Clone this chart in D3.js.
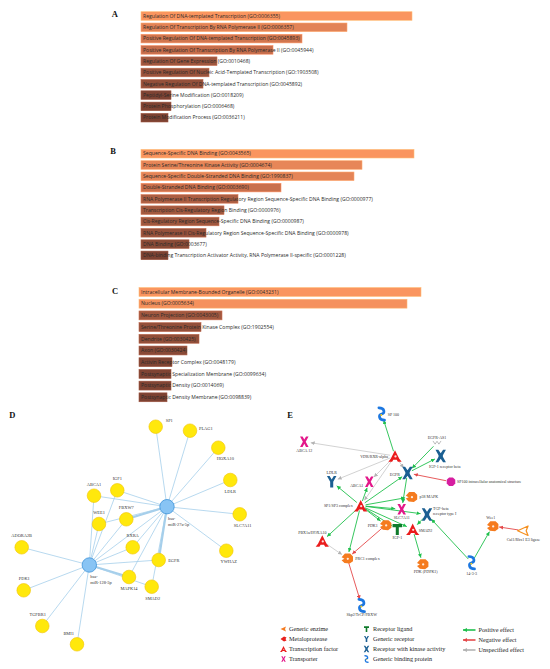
<!DOCTYPE html>
<html>
<head>
<meta charset="utf-8">
<script src="https://cdn.jsdelivr.net/npm/d3@7"></script>
<style>
  body { margin: 0; background: #fff; }
  svg { display: block; }
</style>
</head>
<body>
<div id="chart"></div>
<script>
// ---------- data: GO enrichment (bar length = enrichment score) ----------
const bpTerms = [
  "Regulation Of DNA-templated Transcription (GO:0006355)",
  "Regulation Of Transcription By RNA Polymerase II (GO:0006357)",
  "Positive Regulation Of DNA-templated Transcription (GO:0045893)",
  "Positive Regulation Of Transcription By RNA Polymerase II (GO:0045944)",
  "Regulation Of Gene Expression (GO:0010468)",
  "Positive Regulation Of Nucleic Acid-Templated Transcription (GO:1903508)",
  "Negative Regulation Of DNA-templated Transcription (GO:0045892)",
  "Peptidyl-Serine Modification (GO:0018209)",
  "Protein Phosphorylation (GO:0006468)",
  "Protein Modification Process (GO:0036211)"
];
const bpScores = [27.1, 20.6, 16.1, 13.2, 7.6, 6.8, 6.2, 3.0, 3.0, 2.7];

const mfTerms = [
  "Sequence-Specific DNA Binding (GO:0043565)",
  "Protein Serine/Threonine Kinase Activity (GO:0004674)",
  "Sequence-Specific Double-Stranded DNA Binding (GO:1990837)",
  "Double-Stranded DNA Binding (GO:0003690)",
  "RNA Polymerase II Transcription Regulatory Region Sequence-Specific DNA Binding (GO:0000977)",
  "Transcription Cis-Regulatory Region Binding (GO:0000976)",
  "Cis-Regulatory Region Sequence-Specific DNA Binding (GO:0000987)",
  "RNA Polymerase II Cis-Regulatory Region Sequence-Specific DNA Binding (GO:0000978)",
  "DNA Binding (GO:0003677)",
  "DNA-binding Transcription Activator Activity, RNA Polymerase II-specific (GO:0001228)"
];
const mfScores = [27.3, 22.1, 21.3, 14.0, 9.7, 8.3, 7.8, 6.5, 4.8, 2.7];

const ccTerms = [
  "Intracellular Membrane-Bounded Organelle (GO:0043231)",
  "Nucleus (GO:0005634)",
  "Neuron Projection (GO:0043005)",
  "Serine/Threonine Protein Kinase Complex (GO:1902554)",
  "Dendrite (GO:0030425)",
  "Axon (GO:0030424)",
  "Activin Receptor Complex (GO:0048179)",
  "Postsynaptic Specialization Membrane (GO:0099634)",
  "Postsynaptic Density (GO:0014069)",
  "Postsynaptic Density Membrane (GO:0098839)"
];
const ccScores = [28.2, 26.8, 8.3, 6.2, 6.0, 4.8, 3.3, 3.2, 3.2, 2.8];

// ---------- data: miRNA - target network (D) ----------
const dMirnas = ["hsa-miR-27a-5p", "hsa-miR-128-3p"];
const dGenes = ["SP1", "PLAG1", "HOXA10", "LDLR", "SLC7A11", "ABCA1", "IGF1", "WEE1", "FBXW7",
  "ADORA2B", "RXRA", "EGFR", "MAPK14", "SMAD2", "YWHAZ", "PDK1", "TGFBR1", "BMI1"];
// [miRNA, target, number of interactions]
const dLinks = [
  ["hsa-miR-27a-5p", "SP1", 1], ["hsa-miR-27a-5p", "PLAG1", 1], ["hsa-miR-27a-5p", "HOXA10", 1],
  ["hsa-miR-27a-5p", "LDLR", 1], ["hsa-miR-27a-5p", "SLC7A11", 1], ["hsa-miR-27a-5p", "YWHAZ", 1],
  ["hsa-miR-27a-5p", "EGFR", 2], ["hsa-miR-27a-5p", "SMAD2", 1], ["hsa-miR-27a-5p", "MAPK14", 1],
  ["hsa-miR-27a-5p", "RXRA", 1], ["hsa-miR-27a-5p", "FBXW7", 2], ["hsa-miR-27a-5p", "WEE1", 1],
  ["hsa-miR-27a-5p", "IGF1", 1], ["hsa-miR-27a-5p", "ABCA1", 1], ["hsa-miR-27a-5p", "hsa-miR-128-3p", 1],
  ["hsa-miR-128-3p", "ADORA2B", 1], ["hsa-miR-128-3p", "PDK1", 1], ["hsa-miR-128-3p", "TGFBR1", 1],
  ["hsa-miR-128-3p", "BMI1", 1], ["hsa-miR-128-3p", "ABCA1", 1], ["hsa-miR-128-3p", "IGF1", 1],
  ["hsa-miR-128-3p", "WEE1", 1], ["hsa-miR-128-3p", "FBXW7", 1], ["hsa-miR-128-3p", "RXRA", 1],
  ["hsa-miR-128-3p", "EGFR", 1], ["hsa-miR-128-3p", "MAPK14", 2], ["hsa-miR-128-3p", "SMAD2", 1]
];

// ---------- data: pathway network (E) ----------
const eNames = ["SP 100", "ABCA 12", "VDR/RXR-alpha", "EGFR-AS1", "IGF-1 receptor beta", "LDLR", "ABCA1",
  "EGFR", "SP100 intracellular anatomical structure", "p38 MAPK", "SP1/SP3 complex", "SLC7A11",
  "TGF-beta receptor type I", "PDK1", "IGF-1", "SMAD2", "PBX1a/HOXA10", "PRC1 complex",
  "PDK (PDPK1)", "14-3-3", "Wee1", "Cul1/Rbx1 E3 ligase", "Skp2/TrCP/FBXW"];
const eTypes = ["binding", "transporter", "tf", "rna", "rkinase", "receptor", "transporter",
  "rkinase", "structure", "enzyme", "tf", "transporter",
  "rkinase", "enzyme", "ligand", "tf", "tf", "enzyme",
  "enzyme", "binding", "enzyme", "ligase", "binding"];
const eLinks = [
  ["VDR/RXR-alpha", "SP 100", "positive"], ["VDR/RXR-alpha", "ABCA 12", "unspecified"],
  ["VDR/RXR-alpha", "LDLR", "unspecified"], ["VDR/RXR-alpha", "ABCA1", "unspecified"],
  ["VDR/RXR-alpha", "SP1/SP3 complex", "unspecified"], ["VDR/RXR-alpha", "EGFR", "unspecified"],
  ["EGFR-AS1", "EGFR", "positive"], ["EGFR", "IGF-1 receptor beta", "positive"],
  ["SP100 intracellular anatomical structure", "EGFR", "negative"],
  ["SP1/SP3 complex", "LDLR", "positive"], ["SP1/SP3 complex", "ABCA1", "positive"],
  ["SP1/SP3 complex", "EGFR", "positive"], ["SP1/SP3 complex", "p38 MAPK", "positive"],
  ["SP1/SP3 complex", "SLC7A11", "positive"], ["SP1/SP3 complex", "TGF-beta receptor type I", "positive"],
  ["SP1/SP3 complex", "SMAD2", "positive"], ["SP1/SP3 complex", "PDK1", "positive"],
  ["SP1/SP3 complex", "IGF-1", "positive"], ["SP1/SP3 complex", "PBX1a/HOXA10", "positive"],
  ["SP1/SP3 complex", "PRC1 complex", "positive"], ["EGFR", "SLC7A11", "positive"],
  ["TGF-beta receptor type I", "SMAD2", "positive"], ["SMAD2", "PDK (PDPK1)", "positive"],
  ["14-3-3", "TGF-beta receptor type I", "positive"], ["14-3-3", "Wee1", "positive"],
  ["Cul1/Rbx1 E3 ligase", "Wee1", "negative"], ["PDK1", "PRC1 complex", "negative"],
  ["PBX1a/HOXA10", "PRC1 complex", "unspecified"], ["PRC1 complex", "Skp2/TrCP/FBXW", "negative"]
];

const legendTypesA = [["enzymeKey", "Generic enzime"], ["metalo", "Metaloprotease"],
  ["tf", "Transcription factor"], ["transporter", "Transporter"]];
const legendTypesB = [["ligand", "Receptor ligand"], ["receptor", "Generic receptor"],
  ["rkinase", "Receptor with kinase activity"], ["binding", "Generic binding protein"]];
const legendEffects = [["positive", "Positive effect"], ["negative", "Negative effect"],
  ["unspecified", "Unspecified effect"]];

// ---------- layout ----------
const width = 550, height = 669;
const svg = d3.select("#chart").append("svg")
  .attr("width", width).attr("height", height)
  .attr("viewBox", `0 0 ${width} ${height}`);

const serif = "'Liberation Serif', 'DejaVu Serif', serif";
const sans = "'Open Sans', 'Liberation Sans', sans-serif";

function panelLetter(txt, x, y) {
  svg.append("text").attr("x", x).attr("y", y)
    .attr("text-anchor", "middle")
    .style("font-family", serif).style("font-weight", "bold").style("font-size", "8.5px")
    .attr("fill", "#111").text(txt);
}

// shared bar scale
const xBar = d3.scaleLinear().domain([0, 28.2]).range([0, 282]);
const barColor = d3.scaleLinear().domain([0, 0.45, 1]).range(["#7c4232", "#c86f4c", "#fa955f"]);

function drawGO(terms, scores, left, top, step) {
  const y = d3.scaleBand().domain(terms)
    .range([top, top + step * terms.length])
    .paddingInner(0.24).paddingOuter(0.12);
  const [lo, hi] = d3.extent(scores);
  const g = svg.append("g").attr("transform", `translate(${left},0)`);
  const rows = g.selectAll("g.row").data(terms.map((t, i) => ({ t, v: scores[i] })))
    .join("g").attr("class", "row");
  rows.append("rect")
    .attr("x", 0).attr("y", d => y(d.t))
    .attr("width", d => xBar(d.v)).attr("height", y.bandwidth())
    .attr("fill", d => barColor((d.v - lo) / (hi - lo)))
    .attr("stroke", d => d3.color(barColor((d.v - lo) / (hi - lo))).brighter(0.7))
    .attr("stroke-width", 0.6);
  rows.append("text")
    .attr("x", 2).attr("y", d => y(d.t) + y.bandwidth() / 2)
    .attr("dy", "0.35em")
    .style("font-family", sans).style("font-size", "5.1px")
    .attr("fill", "#2a2a2a").text(d => d.t);
}

panelLetter("A", 114.7, 17);
drawGO(bpTerms, bpScores, 141, 10.35, 11.3);
panelLetter("B", 113, 154);
drawGO(mfTerms, mfScores, 141, 148.05, 11.3);
panelLetter("C", 115, 294);
drawGO(ccTerms, ccScores, 139, 286.15, 11.7);

// ---------- D: miRNA network ----------
const dLayout = {
  "hsa-miR-27a-5p": [167, 106.7], "hsa-miR-128-3p": [89.3, 165],
  "SP1": [155.7, 26.7], "PLAG1": [190, 30.7], "HOXA10": [218.3, 47.7], "LDLR": [230.3, 80],
  "SLC7A11": [239.7, 114.3], "ABCA1": [94, 95.7], "IGF1": [117.3, 90.3], "WEE1": [99, 124],
  "FBXW7": [126.3, 119.3], "ADORA2B": [21.7, 147.3], "RXRA": [132.7, 147.3], "EGFR": [158.7, 160],
  "MAPK14": [129, 177], "SMAD2": [151.7, 186.7], "YWHAZ": [226.3, 150.7], "PDK1": [23.7, 190.3],
  "TGFBR1": [42.3, 226], "BMI1": [77, 244.3]
};
// label offset [dx, dy, anchor]
const dLabelPos = {
  "SP1": [10, -5, "start"], "PLAG1": [9, -1, "start"], "HOXA10": [7, 12, "middle"],
  "LDLR": [0, 12.5, "middle"], "SLC7A11": [3, 12.5, "middle"],
  "YWHAZ": [2.4, 12.5, "middle"], "EGFR": [9.5, 2, "start"], "MAPK14": [0, 13, "middle"],
  "SMAD2": [1, 13, "middle"], "PDK1": [0.6, -10, "middle"], "TGFBR1": [-4.6, -10, "middle"],
  "BMI1": [-8.3, -9.5, "middle"]
};
const xD = d3.scaleLinear().domain([0, 270]).range([0, 270]);
const yD = d3.scaleLinear().domain([0, 269]).range([400, 669]);
panelLetter("D", 12.3, 418);

const gD = svg.append("g");
gD.selectAll("line").data(dLinks).join("line")
  .attr("x1", d => xD(dLayout[d[0]][0])).attr("y1", d => yD(dLayout[d[0]][1]))
  .attr("x2", d => xD(dLayout[d[1]][0])).attr("y2", d => yD(dLayout[d[1]][1]))
  .attr("stroke", "#a6cfeb").attr("stroke-width", d => 0.8 + (d[2] - 1) * 1.4)
  .attr("stroke-linecap", "round");

gD.selectAll("circle.gene").data(dGenes).join("circle").attr("class", "gene")
  .attr("cx", d => xD(dLayout[d][0])).attr("cy", d => yD(dLayout[d][1]))
  .attr("r", 6.8).attr("fill", "#ffe80c").attr("stroke", "#f2c200").attr("stroke-width", 0.6);
gD.selectAll("circle.mir").data(dMirnas).join("circle").attr("class", "mir")
  .attr("cx", d => xD(dLayout[d][0])).attr("cy", d => yD(dLayout[d][1]))
  .attr("r", 7.2).attr("fill", "#88c4f4").attr("stroke", "#3f93d8").attr("stroke-width", 0.8);

gD.selectAll("text.gene").data(dGenes).join("text").attr("class", "gene")
  .attr("x", d => xD(dLayout[d][0]) + (dLabelPos[d] ? dLabelPos[d][0] : 0))
  .attr("y", d => yD(dLayout[d][1]) + (dLabelPos[d] ? dLabelPos[d][1] : -10))
  .attr("text-anchor", d => dLabelPos[d] ? dLabelPos[d][2] : "middle")
  .style("font-family", serif).style("font-size", "4.4px").attr("fill", "#333")
  .text(d => d);
gD.selectAll("text.mir").data(dMirnas).join("text").attr("class", "mir")
  .attr("x", d => xD(dLayout[d][0]) + 1)
  .attr("y", d => yD(dLayout[d][1]) + 13)
  .style("font-family", serif).style("font-size", "4.4px").attr("fill", "#333")
  .each(function (d) {
    const parts = d.split("-");
    d3.select(this).append("tspan").attr("x", xD(dLayout[d][0]) + 1).text(parts[0] + "-");
    d3.select(this).append("tspan").attr("x", xD(dLayout[d][0]) + 1).attr("dy", "1.35em")
      .text(parts.slice(1).join("-"));
  });

// ---------- E: pathway network ----------
const eLayout = {
  "SP 100": [111.7, 14], "ABCA 12": [34.3, 41.7], "VDR/RXR-alpha": [125, 56],
  "EGFR-AS1": [167, 42.7], "IGF-1 receptor beta": [170.7, 56], "LDLR": [61.7, 81.7],
  "ABCA1": [99.3, 81.7], "EGFR": [137.5, 73], "SP100 intracellular anatomical structure": [181, 81.7],
  "p38 MAPK": [141.5, 96.7], "SP1/SP3 complex": [90.7, 105.7], "SLC7A11": [131.7, 109.3],
  "TGF-beta receptor type I": [157, 114.5], "PDK1": [115.7, 125], "IGF-1": [127.3, 129.3],
  "SMAD2": [142.7, 129.3], "PBX1a/HOXA10": [52.3, 141], "PRC1 complex": [77.3, 158.3],
  "PDK (PDPK1)": [152.7, 164], "14-3-3": [201.7, 162.7], "Wee1": [222.7, 126],
  "Cul1/Rbx1 E3 ligase": [253.3, 130.7], "Skp2/TrCP/FBXW": [91.7, 205.5]
};
const eLabelPos = {
  "SP 100": [6, 1.5, "start"], "ABCA 12": [0, 10, "middle"], "VDR/RXR-alpha": [-7, 1.5, "end"],
  "EGFR-AS1": [0, -3.5, "middle"], "IGF-1 receptor beta": [4, 11.5, "middle"],
  "LDLR": [0, -8, "middle"], "ABCA1": [-6, 5, "end"], "EGFR": [-7.5, 3, "end"],
  "SP100 intracellular anatomical structure": [6, 1.5, "start"], "p38 MAPK": [8, 1.5, "start"],
  "SP1/SP3 complex": [-8, 1, "end"], "SLC7A11": [0, 9.5, "middle"],
  "TGF-beta receptor type I": [6, -5, "start"], "PDK1": [-8, 1.5, "end"], "IGF-1": [0, 10, "middle"],
  "SMAD2": [6, 2.5, "start"], "PBX1a/HOXA10": [-10, -7.5, "middle"], "PRC1 complex": [8, 1.5, "start"],
  "PDK (PDPK1)": [3, 9, "middle"], "14-3-3": [0, 12, "middle"], "Wee1": [-2, -7, "middle"],
  "Cul1/Rbx1 E3 ligase": [0, 10, "middle"], "Skp2/TrCP/FBXW": [0, 10, "middle"]
};
const xE = d3.scaleLinear().domain([0, 280]).range([270, 550]);
const yE = d3.scaleLinear().domain([0, 269]).range([400, 669]);
panelLetter("E", 290, 418);

const effectColor = { positive: "#1fbf4c", negative: "#e4484a", unspecified: "#b3b3b3" };
const defs = svg.append("defs");
Object.entries(effectColor).forEach(([k, c]) => {
  defs.append("marker").attr("id", "arr-" + k)
    .attr("viewBox", "0 -3 6 6").attr("refX", 6).attr("refY", 0)
    .attr("markerWidth", 4).attr("markerHeight", 4).attr("markerUnits", "userSpaceOnUse")
    .attr("orient", "auto")
    .append("path").attr("d", "M0,-3L6,0L0,3Z").attr("fill", c);
});

// icon glyphs, centred on 0,0
const icons = {
  enzyme: { d: "M-6,-1L-2.5,-5L3,-5L6,-2L6,3L2.5,5.5L-3,5L-6,2L-3,0.5Z", fill: "#f57b1f", dot: true },
  enzymeKey: { d: "M-6,0L5,-5L3,0L5,5Z", fill: "#f57b1f" },
  ligase: { d: "M-6,0L5,-5L3,0L5,5Z", fill: "#fff", stroke: "#f5901f", sw: 1.3 },
  metalo: { d: "M-6,0L1,-5L6,-3L4,0L6,3L1,5Z", fill: "#e8201c" },
  tf: { d: "M0,-6L4.5,3L7,6L3,6L1.8,4L-1.8,4L-3,6L-7,6L-4.5,3Z", fill: "#ea1c1c", dot: true },
  transporter: { d: "M-4.5,-5.5L-1.8,-5.5L0,-2.2L1.8,-5.5L4.5,-5.5L1.5,0L4.5,5.5L1.8,5.5L0,2.2L-1.8,5.5L-4.5,5.5L-1.5,0Z", fill: "#e3188a" },
  rkinase: { d: "M-5.5,-6.5L-2.5,-6.5L0,-3L2.5,-6.5L5.5,-6.5L2.3,-0.8L2.3,0.8L5.5,6.5L2.5,6.5L0,3L-2.5,6.5L-5.5,6.5L-2.3,0.8L-2.3,-0.8Z", fill: "#1b5f92" },
  receptor: { d: "M-5,-6L-2.2,-6L0,-2.2L2.2,-6L5,-6L1.6,0L1.6,6L-1.6,6L-1.6,0Z", fill: "#1b5f92" },
  ligand: { d: "M-5,-5.5L5,-5.5L5,-2.2L1.6,-2.2L1.6,6L-1.6,6L-1.6,-2.2L-5,-2.2Z", fill: "#0f7a2b" },
  binding: { d: "M-3,-6.5C3.5,-6.5,3.5,-1,0,0C-3.5,1,-3.5,6.5,3,6.5", stroke: "#1c77e0", sw: 2.8, fill: "none", ydot: true },
  structure: { d: "M-2,-4.5L2,-4.5L4.5,-2L4.5,2L2,4.5L-2,4.5L-4.5,2L-4.5,-2Z", fill: "#d61ea0" },
  rna: { d: "M-4,-1.5L-2,1.5L0,-1.5L2,1.5L4,-1.5", stroke: "#9a9a9a", sw: 0.7, fill: "none" }
};

function drawIcon(sel, type, k) {
  const ic = icons[type];
  sel.append("path").attr("d", ic.d)
    .attr("transform", `scale(${k})`)
    .attr("fill", ic.fill)
    .attr("stroke", ic.stroke || "none")
    .attr("stroke-width", ic.sw || (ic.stroke ? 1 : 0))
    .attr("stroke-linecap", "round").attr("stroke-linejoin", "round");
  if (ic.dot) sel.append("circle").attr("r", 1.2 * k).attr("cx", 0.5 * k).attr("cy", 0.5 * k).attr("fill", "#fff").attr("opacity", 0.85);
  if (ic.ydot) sel.append("circle").attr("r", 1 * k).attr("cx", -0.5 * k).attr("cy", 1 * k).attr("fill", "#ffd21a");
}

const gE = svg.append("g");
const ePos = n => [xE(eLayout[n][0]), yE(eLayout[n][1])];
gE.selectAll("line").data(eLinks).join("line")
  .each(function (d) {
    const [x1, y1] = ePos(d[0]), [x2, y2] = ePos(d[1]);
    const len = Math.hypot(x2 - x1, y2 - y1);
    const ux = (x2 - x1) / len, uy = (y2 - y1) / len;
    d3.select(this)
      .attr("x1", x1 + ux * 5).attr("y1", y1 + uy * 5)
      .attr("x2", x2 - ux * 6.5).attr("y2", y2 - uy * 6.5);
  })
  .attr("stroke", d => effectColor[d[2]])
  .attr("stroke-width", d => d[2] === "unspecified" ? 0.6 : 0.9)
  .attr("marker-end", d => `url(#arr-${d[2]})`);

const eNodeG = gE.selectAll("g.node").data(eNames).join("g").attr("class", "node")
  .attr("transform", d => `translate(${ePos(d)[0]},${ePos(d)[1]})`);
eNodeG.each(function (d, i) { drawIcon(d3.select(this), eTypes[i], 0.95); });

gE.selectAll("text.lab").data(eNames).join("text").attr("class", "lab")
  .attr("x", d => ePos(d)[0] + eLabelPos[d][0])
  .attr("y", d => ePos(d)[1] + eLabelPos[d][1])
  .attr("text-anchor", d => eLabelPos[d][2])
  .style("font-family", serif).style("font-size", "4px").attr("fill", "#333")
  .each(function (d) {
    if (d === "TGF-beta receptor type I") {
      const x = ePos(d)[0] + eLabelPos[d][0];
      d3.select(this).append("tspan").attr("x", x).text("TGF-beta");
      d3.select(this).append("tspan").attr("x", x).attr("dy", "1.4em").text("receptor type I");
    } else {
      d3.select(this).text(d);
    }
  });

// legend
const legY = d3.scaleLinear().domain([0, 3]).range([629, 659]);
const gL = svg.append("g");
[[legendTypesA, 283.5, 289], [legendTypesB, 366.5, 373]].forEach(([items, ix, tx]) => {
  items.forEach((it, i) => {
    const g = gL.append("g").attr("transform", `translate(${ix},${legY(i)})`);
    drawIcon(g, it[0], 0.5);
    gL.append("text").attr("x", tx).attr("y", legY(i)).attr("dy", "0.35em")
      .style("font-family", serif).style("font-size", "6.2px").attr("fill", "#222").text(it[1]);
  });
});
legendEffects.forEach((it, i) => {
  const y = legY(i) + 1;
  gL.append("line").attr("x1", 475.5).attr("x2", 463).attr("y1", y).attr("y2", y)
    .attr("stroke", effectColor[it[0]]).attr("stroke-width", 1.6)
    .attr("marker-end", `url(#arr-${it[0]})`);
  gL.append("text").attr("x", 478.5).attr("y", y).attr("dy", "0.35em")
    .style("font-family", serif).style("font-size", "6.2px").attr("fill", "#222").text(it[1]);
});
</script>
</body>
</html>
